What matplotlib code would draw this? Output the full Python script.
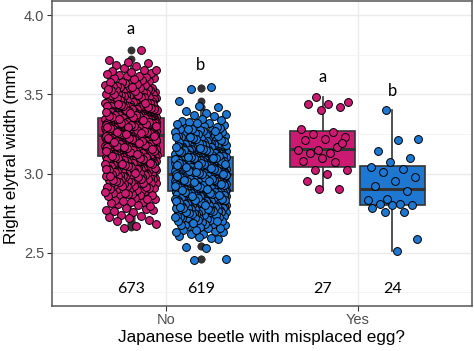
import numpy as np
import matplotlib
matplotlib.use("Agg")
import matplotlib.pyplot as plt

plt.rcParams['font.family'] = ['Liberation Sans', 'DejaVu Sans']

# ---------------- data ----------------
groups = ['No', 'Yes']
BIN_STEP = 0.02

# "No" groups: number of beetles per 0.02 mm bin
no_magenta_bin_start = 2.66
no_magenta_counts = [1, 2, 2, 2, 2, 3, 3, 3, 4, 4, 5, 5, 6, 7, 8, 10, 11, 12, 14, 15,
                     17, 19, 21, 23, 24, 25, 26, 27, 28, 29, 31, 32, 31, 30, 27, 23, 20, 17, 15, 13,
                     11, 10, 9, 8, 7, 6, 5, 4, 4, 3, 3, 2, 2, 1, 0, 0, 1]
no_blue_bin_start = 2.46
no_blue_counts = [2, 0, 0, 0, 2, 0, 1, 3, 3, 4, 4, 6, 7, 9, 10, 12, 13, 15, 17, 19,
                  21, 26, 27, 28, 29, 30, 30, 30, 31, 30, 29, 27, 24, 21, 18, 16, 13, 11, 9, 8,
                  7, 6, 4, 4, 3, 2, 2, 1, 2, 0, 1, 0, 0, 0, 2]

# "Yes" groups: individual values
yes_magenta_values = [3.48, 3.45, 3.44, 3.44, 3.42, 3.40, 3.28, 3.26, 3.25, 3.23, 3.22, 3.21,
                      3.17, 3.15, 3.15, 3.13, 3.13, 3.19, 3.10, 3.08, 3.07, 3.02, 3.02, 3.00,
                      2.95, 2.90, 2.90]
yes_blue_values = [3.40, 3.22, 3.21, 3.14, 3.10, 3.07, 3.04, 3.03, 3.01, 2.98, 2.95, 2.92,
                   2.89, 2.84, 2.83, 2.81, 2.81, 2.80, 2.80, 2.78, 2.76, 2.76, 2.59, 2.51]

# box statistics (order: No-magenta, No-blue, Yes-magenta, Yes-blue)
box_whislo = [2.76, 2.58, 2.90, 2.51]
box_q1 = [3.11, 2.888, 3.044, 2.80]
box_med = [3.24, 3.00, 3.152, 2.905]
box_q3 = [3.352, 3.105, 3.27, 3.048]
box_whishi = [3.70, 3.40, 3.48, 3.40]

letters = ['a', 'b', 'a', 'b']
letter_y = [3.91, 3.683, 3.61, 3.52]
count_y = 2.27

xlabel = 'Japanese beetle with misplaced egg?'
ylabel = 'Right elytral width (mm)'
yticks = [2.5, 3.0, 3.5, 4.0]
yminor = [2.25, 2.75, 3.25, 3.75]

# ---------------- build series ----------------
def expand(start, counts):
    centers = start + BIN_STEP * np.arange(len(counts))
    return np.repeat(np.round(centers, 2), counts)

series = [expand(no_magenta_bin_start, no_magenta_counts),
          expand(no_blue_bin_start, no_blue_counts),
          np.array(yes_magenta_values),
          np.array(yes_blue_values)]
binned = [True, True, False, False]
group_idx = [0, 0, 1, 1]
side = [-1, 1, -1, 1]
colors = ['#CC1A72', '#1E78D2']
fill = [colors[0], colors[1], colors[0], colors[1]]

DODGE = 0.182
BOXW = 0.342
JW = 0.135
PT = 32

fig = plt.figure(figsize=(4.74, 3.51), dpi=100)
ax = fig.add_axes([0.109, 0.129, 0.886, 0.868])

xs = [group_idx[i] + 1 + side[i] * DODGE for i in range(4)]

# boxes
for i in range(4):
    st = [dict(med=box_med[i], q1=box_q1[i], q3=box_q3[i],
               whislo=box_whislo[i], whishi=box_whishi[i], fliers=[])]
    ax.bxp(st, positions=[xs[i]], widths=BOXW, showcaps=False, showfliers=False,
           patch_artist=True, manage_ticks=False,
           boxprops=dict(facecolor=fill[i], edgecolor='#333333', linewidth=1.2),
           medianprops=dict(color='#333333', linewidth=2.2),
           whiskerprops=dict(color='#333333', linewidth=1.2), zorder=2)
    vals = series[i]
    fl = vals[(vals < box_whislo[i] - 1e-9) | (vals > box_whishi[i] + 1e-9)]
    ax.scatter(np.full(len(fl), xs[i]), fl, s=PT, color='#333333', zorder=2.5,
               linewidths=0)

# jittered points (deterministic jitter, like geom_jitter)
for i in range(4):
    vals = series[i]
    n = len(vals)
    k = np.arange(n)
    off = (((k * 0.6180339887 + 0.37) % 1.0) - 0.5) * 2 * JW
    yj = 0.0
    if binned[i]:
        yj = (((k * 0.4142135624 + 0.23) % 1.0) - 0.5) * BIN_STEP * 0.9
    order = np.argsort((k * 0.7548776662 + 0.11) % 1.0)
    ax.scatter((xs[i] + off)[order], (vals + yj)[order], s=PT, facecolor=fill[i],
               edgecolor='black', linewidths=0.7, zorder=3)

# letters and counts
for i in range(4):
    ax.text(xs[i], letter_y[i], letters[i], ha='center', va='center',
            fontsize=12, family=['Lato', 'DejaVu Sans'], color='black', zorder=5)
    ax.text(xs[i], count_y, str(len(series[i])), ha='center', va='center',
            fontsize=11.5, family=['Lato', 'DejaVu Sans'], color='black', zorder=5)

# axes styling
ax.set_xlim(0.405, 2.595)
ax.set_ylim(2.166, 4.088)
ax.set_xticks([1, 2])
ax.set_xticklabels(groups)
ax.set_yticks(yticks)
ax.set_yticklabels(['%.1f' % v for v in yticks])
ax.set_yticks(yminor, minor=True)
ax.tick_params(axis='both', which='major', length=3.5, width=0.8, color='#333333',
               labelsize=10.5, labelcolor='#4D4D4D', pad=2)
ax.tick_params(axis='y', which='minor', length=0)
ax.grid(True, which='major', color='#EBEBEB', linewidth=1.0, zorder=0)
ax.grid(True, which='minor', axis='y', color='#F2F2F2', linewidth=0.6, zorder=0)
ax.set_axisbelow(True)
for sp in ax.spines.values():
    sp.set_color('#555555')
    sp.set_linewidth(1.1)

ax.set_xlabel(xlabel, fontsize=12.3, color='black', labelpad=2)
ax.set_ylabel(ylabel, fontsize=12.3, color='black', labelpad=3)

fig.savefig('out.png', dpi=100)
